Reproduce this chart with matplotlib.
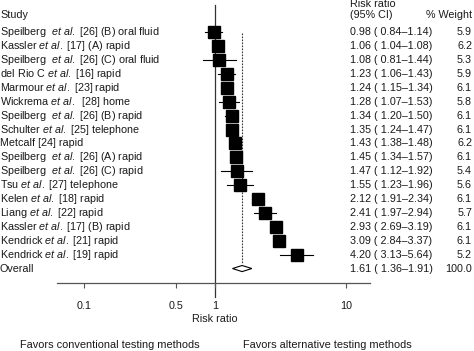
import matplotlib.pyplot as plt
import matplotlib.transforms as mtransforms
from matplotlib.patches import Polygon
import numpy as np

plt.rcParams['font.family'] = ['Liberation Sans', 'DejaVu Sans']
plt.rcParams['mathtext.fontset'] = 'custom'
plt.rcParams['mathtext.rm'] = 'Liberation Sans'
plt.rcParams['mathtext.it'] = 'Liberation Sans:italic'

ea = r'$\mathit{et\ al.}$'
studies = ['Speilberg  ' + ea + ' [26] (B) oral fluid',
           'Kassler ' + ea + ' [17] (A) rapid',
           'Speilberg  ' + ea + ' [26] (C) oral fluid',
           'del Rio C ' + ea + ' [16] rapid',
           'Marmour ' + ea + ' [23] rapid',
           'Wickrema ' + ea + '  [28] home',
           'Speilberg  ' + ea + ' [26] (B) rapid',
           'Schulter ' + ea + ' [25] telephone',
           'Metcalf [24] rapid',
           'Speilberg  ' + ea + ' [26] (A) rapid',
           'Speilberg  ' + ea + ' [26] (C) rapid',
           'Tsu ' + ea + ' [27] telephone',
           'Kelen ' + ea + ' [18] rapid',
           'Liang ' + ea + ' [22] rapid',
           'Kassler ' + ea + ' [17] (B) rapid',
           'Kendrick ' + ea + ' [21] rapid',
           'Kendrick ' + ea + ' [19] rapid']
rr = [0.98, 1.06, 1.08, 1.23, 1.24, 1.28, 1.34, 1.35, 1.43, 1.45, 1.47, 1.55, 2.12, 2.41, 2.93, 3.09, 4.20]
lo = [0.84, 1.04, 0.81, 1.06, 1.15, 1.07, 1.20, 1.24, 1.38, 1.34, 1.12, 1.23, 1.91, 1.97, 2.69, 2.84, 3.13]
hi = [1.14, 1.08, 1.44, 1.43, 1.34, 1.53, 1.50, 1.47, 1.48, 1.57, 1.92, 1.96, 2.34, 2.94, 3.19, 3.37, 5.64]
weights = [5.9, 6.2, 5.3, 5.9, 6.1, 5.8, 6.1, 6.1, 6.2, 6.1, 5.4, 5.6, 6.1, 5.7, 6.1, 6.1, 5.2]

overall_rr, overall_lo, overall_hi, overall_w = 1.61, 1.36, 1.91, 100.0
xticks = [0.1, 0.5, 1, 10]
xtick_labels = ['0.1', '0.5', '1', '10']

W, H = 474, 351
fig = plt.figure(figsize=(W / 100, H / 100), dpi=100)
ax = fig.add_axes([57 / W, (H - 283) / H, (370 - 57) / W, 283 / H])
ax.set_xscale('log')
ax.set_xlim(0.0622, 15.25)
ax.set_ylim(19.04, -1.32)

txtc = '#1a1a1a'
fs = 7.75
rows = np.arange(1, len(studies) + 1)

# CI lines + weighted squares
for y, r, l, h, w in zip(rows, rr, lo, hi, weights):
    ax.plot([l, h], [y, y], color='black', lw=0.8, zorder=2)
    ax.plot(r, y, marker='s', color='black', markersize=3.75 * np.sqrt(w), zorder=3)

# overall diamond
oy = len(studies) + 1
d = 0.22
ax.add_patch(Polygon([[overall_lo, oy], [overall_rr, oy - d], [overall_hi, oy], [overall_rr, oy + d]],
                     closed=True, facecolor='white', edgecolor='black', lw=0.8, zorder=3))

# reference lines
ax.plot([1, 1], [-0.96, 20.05], color='#333333', lw=0.9, clip_on=False, zorder=1)
ax.plot([overall_rr, overall_rr], [1.05, 17.7], color='#333333', lw=0.8,
        linestyle=(0, (1.5, 1.2)), zorder=1)

# axis styling
for s in ['top', 'right', 'left']:
    ax.spines[s].set_visible(False)
ax.spines['bottom'].set_color('#555555')
ax.spines['bottom'].set_linewidth(0.9)
ax.set_yticks([])
ax.set_xticks(xticks)
ax.set_xticklabels(xtick_labels)
ax.minorticks_off()
ax.tick_params(axis='x', length=3.8, width=0.8, color='#555555', pad=9,
               labelsize=fs, labelcolor=txtc)

# text columns
tr = mtransforms.blended_transform_factory(fig.transFigure, ax.transData)
x_study = 0 / W
x_ci = 350 / W
x_w = 472 / W
ax.text(x_study, -0.245, 'Study', transform=tr, fontsize=fs, color=txtc, va='center', ha='left')
ax.text(x_ci, -1.0, 'Risk ratio', transform=tr, fontsize=fs, color=txtc, va='center', ha='left')
ax.text(x_ci, -0.245, '(95% CI)', transform=tr, fontsize=fs, color=txtc, va='center', ha='left')
ax.text(x_w, -0.245, '% Weight', transform=tr, fontsize=fs, color=txtc, va='center', ha='right')

for y, name, r, l, h, w in zip(rows, studies, rr, lo, hi, weights):
    ax.text(x_study, y, name, transform=tr, fontsize=fs, color=txtc, va='center', ha='left')
    ax.text(x_ci, y, f'{r:.2f} ( {l:.2f}\u2013{h:.2f})', transform=tr, fontsize=fs,
            color=txtc, va='center', ha='left')
    ax.text(x_w, y, f'{w:.1f}', transform=tr, fontsize=fs, color=txtc, va='center', ha='right')

ax.text(x_study, oy, 'Overall', transform=tr, fontsize=fs, color=txtc, va='center', ha='left')
ax.text(x_ci, oy, f'{overall_rr:.2f} ( {overall_lo:.2f}\u2013{overall_hi:.2f})', transform=tr,
        fontsize=fs, color=txtc, va='center', ha='left')
ax.text(x_w, oy, f'{overall_w:.1f}', transform=tr, fontsize=fs, color=txtc, va='center', ha='right')

# labels below
fig.text(215 / W, 1 - 319 / H, 'Risk ratio', fontsize=fs, color=txtc, ha='center', va='center')
fig.text(110 / W, 1 - 345 / H, 'Favors conventional testing methods', fontsize=7.9,
         color=txtc, ha='center', va='center')
fig.text(327 / W, 1 - 345 / H, 'Favors alternative testing methods', fontsize=7.9,
         color=txtc, ha='center', va='center')

fig.savefig('out.png', dpi=100)
